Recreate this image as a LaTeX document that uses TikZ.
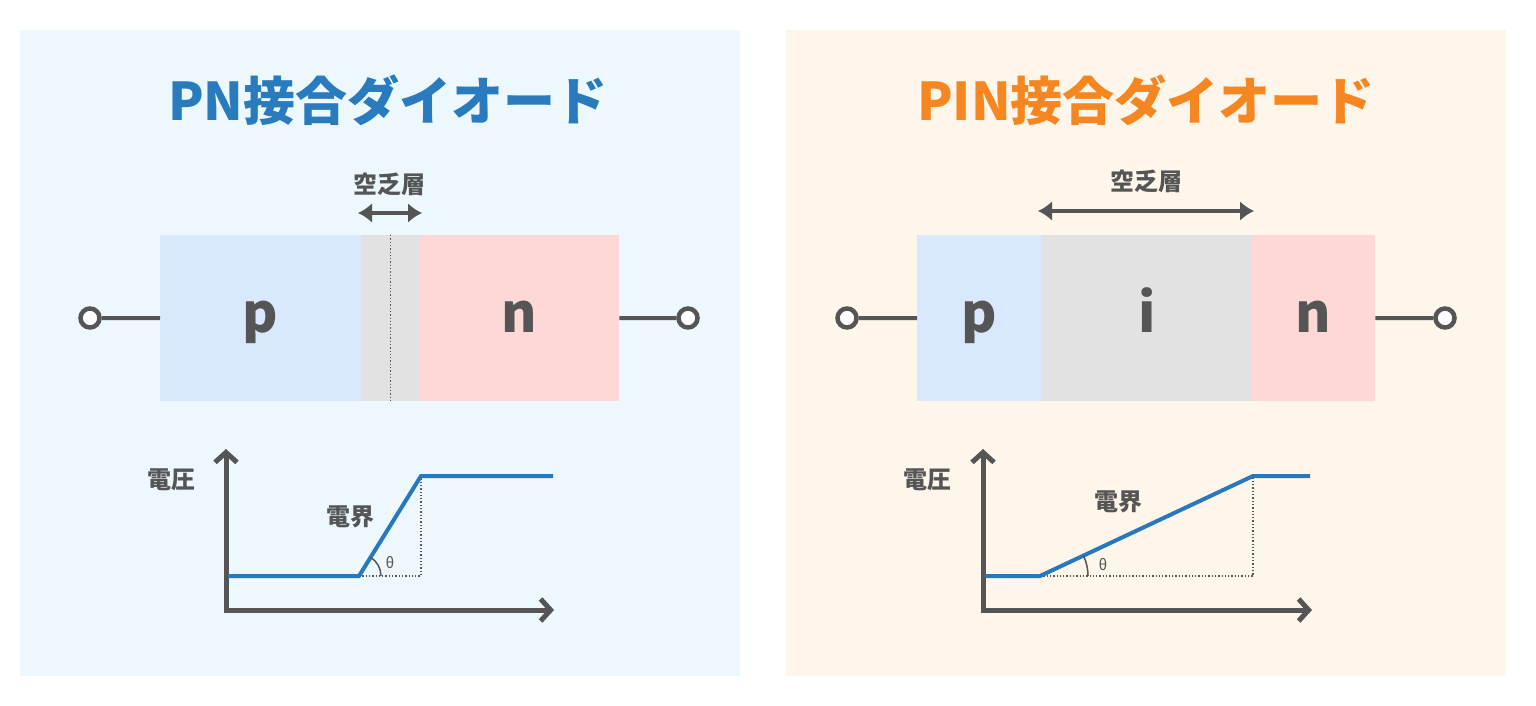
\documentclass[tikz,border=0pt]{standalone}
\usepackage{fontspec}
\setmainfont{Noto Sans CJK JP}
\usetikzlibrary{arrows.meta,positioning}
\definecolor{PanelBlue}{RGB}{236,247,254}
\definecolor{PanelOrange}{RGB}{254,245,235}
\definecolor{TitleBlue}{RGB}{42,123,190}
\definecolor{TitleOrange}{RGB}{246,134,31}
\definecolor{InkGray}{RGB}{85,85,85}
\definecolor{PFill}{RGB}{217,232,252}
\definecolor{IFill}{RGB}{226,226,226}
\definecolor{NFill}{RGB}{253,216,214}
\definecolor{FieldBlue}{RGB}{40,120,190}
\tikzset{
  title/.style={font=\fontsize{52}{58}\selectfont\bfseries},
  region/.style={anchor=north west,minimum height=166pt,inner sep=0pt,
    text=InkGray,font=\fontsize{54}{60}\selectfont\bfseries,
    text height=29pt,text depth=0pt},
  terminal/.style={circle,draw=InkGray,line width=4.5pt,fill=white,
    minimum size=19pt,inner sep=0pt},
  wire/.style={line width=4pt,InkGray},
  label/.style={text=InkGray,font=\fontsize{24}{28}\selectfont\bfseries},
  span/.style={line width=4.5pt,InkGray,{Latex[length=14pt,width=20pt]}-{Latex[length=14pt,width=20pt]}},
  axis/.style={line width=5pt,InkGray,line cap=round,
    {Straight Barb[length=10pt,width=22pt,line width=5pt]}-{Straight Barb[length=10pt,width=22pt,line width=5pt]}},
  field/.style={line width=4pt,FieldBlue},
  guide/.style={line width=1.3pt,InkGray,dotted},
  angle/.style={line width=1.5pt,InkGray},
  theta/.style={text=InkGray,font=\fontsize{15}{18}\selectfont}
}
\begin{document}
\begin{tikzpicture}[x=1pt,y=-1pt]
  \useasboundingbox (0,0) rectangle (1536,706);
  \fill[white] (0,0) rectangle (1536,706);
  \fill[PanelBlue] (20,30) rectangle (740,676);
  \fill[PanelOrange] (786,30) rectangle (1506,676);

  % PN
  \node[title,text=TitleBlue] (ltitle) at (388,100) {PN接合ダイオード};
  \node[region,fill=PFill,minimum width=201pt] (lp) at (160,235) {p};
  \node[region,fill=IFill,minimum width=58pt] (ld) at (361,235) {};
  \node[region,fill=NFill,minimum width=200pt] (ln) at (419,235) {n};
  \draw[guide] (ld.north) -- (ld.south);
  \node[terminal] (lt1) at (90,318) {};
  \node[terminal] (lt2) at (688,318) {};
  \draw[wire] (lt1) -- (lp.west);
  \draw[wire] (ln.east) -- (lt2);
  \node[label] (lzone) at (389,184) {空乏層};
  \coordinate (lza) at (358,213);
  \coordinate (lzb) at (422,213);
  \draw[span] (lza) -- (lzb);

  \coordinate (lo) at (226,610);
  \draw[axis] (226,449) -- (lo) -- (554,610);
  \node[label] (lv) at (171,480) {電圧};
  \coordinate (lk1) at (359,576);
  \coordinate (lk2) at (421,476);
  \draw[guide] (lk1) -- (421,576) -- (lk2);
  \draw[field] (228,576) -- (lk1) -- (lk2) -- (553,476);
  \draw[angle] ([xshift=22pt]lk1) arc[start angle=0,end angle=58,radius=22pt];
  \node[theta] (lth) at (390,563) {θ};
  \node[label] (le) at (350,517) {電界};

  % PIN
  \node[title,text=TitleOrange] (rtitle) at (1146,100) {PIN接合ダイオード};
  \node[region,fill=PFill,minimum width=124pt] (rp) at (917,235) {p};
  \node[region,fill=IFill,minimum width=211pt] (ri) at (1041,235) {i};
  \node[region,fill=NFill,minimum width=123pt] (rn) at (1252,235) {n};
  \node[terminal] (rt1) at (847,318) {};
  \node[terminal] (rt2) at (1445,318) {};
  \draw[wire] (rt1) -- (rp.west);
  \draw[wire] (rn.east) -- (rt2);
  \node[label] (rzone) at (1146,181) {空乏層};
  \coordinate (rza) at (1038,211);
  \coordinate (rzb) at (1254,211);
  \draw[span] (rza) -- (rzb);

  \coordinate (ro) at (983,610);
  \draw[axis] (983,449) -- (ro) -- (1312,610);
  \node[label] (rv) at (927,480) {電圧};
  \coordinate (rk1) at (1040,576);
  \coordinate (rk2) at (1253,476);
  \draw[guide] (rk1) -- (1253,576) -- (rk2);
  \draw[field] (985,576) -- (rk1) -- (rk2) -- (1310,476);
  \draw[angle] ([xshift=48pt]rk1) arc[start angle=0,end angle=25,radius=48pt];
  \node[theta] (rth) at (1103,565) {θ};
  \node[label] (re) at (1118,502) {電界};
\end{tikzpicture}
\end{document}
